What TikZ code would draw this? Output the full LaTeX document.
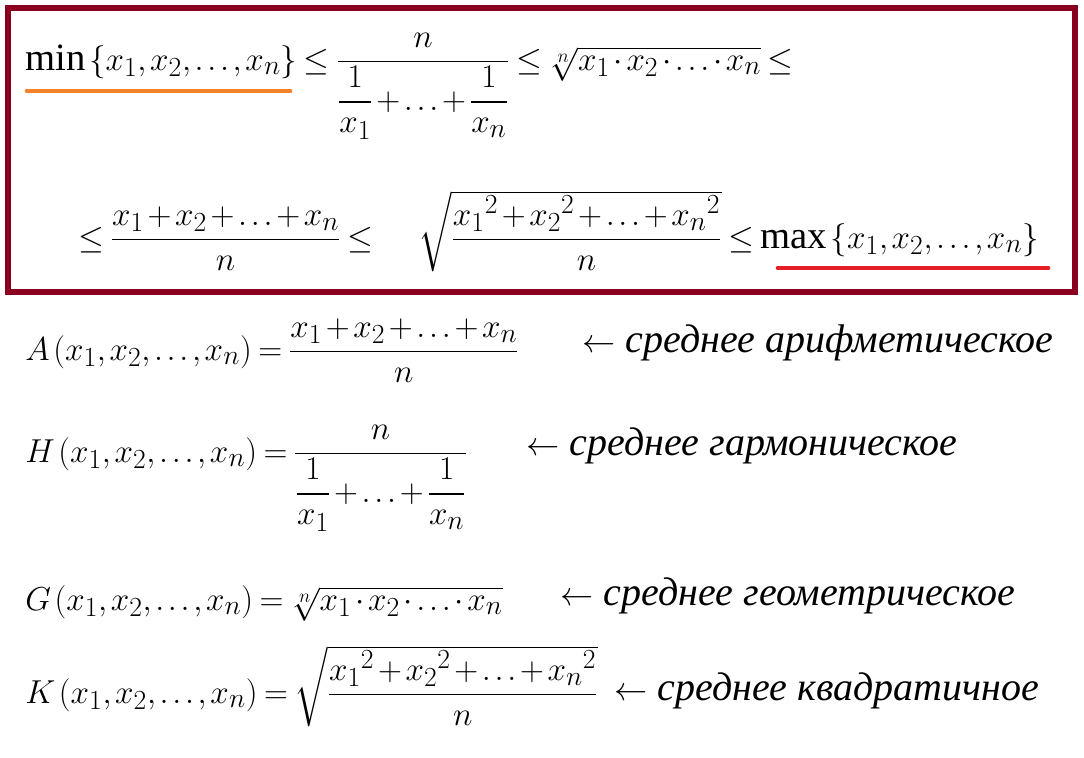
\documentclass[tikz,border=0pt]{standalone}
\usepackage{amsmath}
\usepackage{fontspec}
\setmainfont{Liberation Serif}
\newcommand\tightsp{\medmuskip=2mu\relax\thickmuskip=3.5mu\relax\thinmuskip=2mu\relax}
\begin{document}
\begin{tikzpicture}[x=0.75pt,y=-0.75pt,
  f/.style={anchor=base west,inner sep=0pt,font=\fontsize{29}{35}\selectfont},
  lab/.style={anchor=base west,inner sep=0pt,font=\fontsize{30}{36}\selectfont\itshape}]
\useasboundingbox (0,0) rectangle (1084,757);
\definecolor{boxred}{RGB}{138,0,30}
\definecolor{uorange}{RGB}{245,130,40}
\definecolor{ured}{RGB}{230,30,40}
\draw[boxred,line width=4.5pt] (8,8) rectangle (1075,292);
\node[f] (l1) at (25,70) {$\tightsp\min\left\{x_1,x_2,\ldots,x_n\right\}\le\dfrac{n}{\dfrac1{x_1}+\ldots+\dfrac1{x_n}}\le\sqrt[n]{x_1\cdot x_2\cdot\ldots\cdot x_n}\le$};
\node[f] (l2) at (78,248) {$\tightsp\le\dfrac{x_1+x_2+\ldots+x_n}{n}\le\quad\sqrt{\dfrac{x_1{}^2+x_2{}^2+\ldots+x_n{}^2}{n}}\le\max\left\{x_1,x_2,\ldots,x_n\right\}$};
\coordinate (o1) at (27,91); \coordinate (o2) at (290,91);
\coordinate (r1) at (778,268); \coordinate (r2) at (1048,268);
\draw[uorange,line width=3.5pt,line cap=round] (o1) -- (o2);
\draw[ured,line width=3.5pt,line cap=round] (r1) -- (r2);
\node[f] (A) at (25,360) {$\tightsp A\left(x_1,x_2,\ldots,x_n\right)=\dfrac{x_1+x_2+\ldots+x_n}{n}$};
\node[lab] (Al) at (582,352) {$\leftarrow$ среднее арифметическое};
\node[f] (H) at (25,462) {$\tightsp H\left(x_1,x_2,\ldots,x_n\right)=\dfrac{n}{\dfrac1{x_1}+\ldots+\dfrac1{x_n}}$};
\node[lab] (Hl) at (526,455) {$\leftarrow$ среднее гармоническое};
\node[f] (G) at (25,610) {$\tightsp G\left(x_1,x_2,\ldots,x_n\right)=\sqrt[n]{x_1\cdot x_2\cdot\ldots\cdot x_n}$};
\node[lab] (Gl) at (560,605) {$\leftarrow$ среднее геометрическое};
\node[f] (K) at (25,703) {$\tightsp K\left(x_1,x_2,\ldots,x_n\right)=\sqrt{\dfrac{x_1{}^2+x_2{}^2+\ldots+x_n{}^2}{n}}$};
\node[lab] (Kl) at (614,700) {$\leftarrow$ среднее квадратичное};
\end{tikzpicture}
\end{document}
